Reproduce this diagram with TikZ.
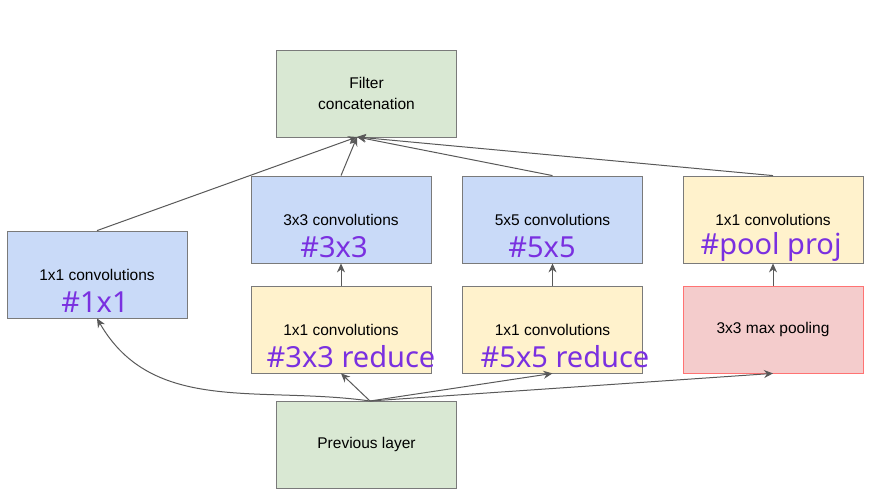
\documentclass[tikz,border=0pt]{standalone}
\usepackage{fontspec}
\setmainfont{Liberation Sans}
\newfontfamily\notefont{Noto Sans}
\usetikzlibrary{arrows.meta}
\definecolor{boxgreen}{HTML}{D9E8D3}
\definecolor{boxblue}{HTML}{C9DAF8}
\definecolor{boxyellow}{HTML}{FFF2CC}
\definecolor{boxred}{HTML}{F4CCCC}
\definecolor{note}{HTML}{7A30E0}
\definecolor{wire}{HTML}{595959}
\tikzset{
  box/.style={draw=wire!80, line width=0.8pt, minimum width=180pt, minimum height=87pt, inner sep=0pt, font=\fontsize{15.5}{21}\selectfont, align=center},
  tag/.style={text=note, font=\notefont\fontsize{29}{32}\selectfont, inner sep=0pt},
  link/.style={draw=wire, line width=1pt, -{Stealth[length=9pt,width=8pt]}}
}
\begin{document}
\begin{tikzpicture}[x=1pt,y=-1pt]
\useasboundingbox (0,0) rectangle (869,494);

% boxes
\node[box, fill=boxgreen] (concat) at (366.5,93.5) {Filter\\concatenation};
\node[box, fill=boxblue] (one) at (97,274.5) {1x1 convolutions};
\node[box, fill=boxblue] (three) at (341,219.5) {3x3 convolutions};
\node[box, fill=boxblue] (five) at (552.5,219.5) {5x5 convolutions};
\node[box, fill=boxyellow] (proj) at (773,219.5) {1x1 convolutions};
\node[box, fill=boxyellow] (redthree) at (341,329.5) {1x1 convolutions};
\node[box, fill=boxyellow] (redfive) at (552.5,329.5) {1x1 convolutions};
\node[box, fill=boxred, draw=red!55] (pool) at (773,329.5) {3x3 max pooling};
\node[box, fill=boxgreen] (prev) at (366.5,444.5) {Previous layer};

% notes
\node[tag] (tone) at (95,302) {\#1x1};
\node[tag] (tthree) at (334,247) {\#3x3};
\node[tag] (tfive) at (542,247) {\#5x5};
\node[tag] (tproj) at (771,247) {\#pool proj};
\node[tag] (tredthree) at (351,357) {\#3x3 reduce};
\node[tag] (tredfive) at (565,357) {\#5x5 reduce};

% connectors
\coordinate (src) at (370,401);
\draw[link] (src) to[out=172, in=-60] (one.south);
\draw[link] (src) -- (redthree.south);
\draw[link] (src) -- (redfive.south);
\draw[link] (src) -- (pool.south);
\draw[link] (redthree) -- (three);
\draw[link] (redfive) -- (five);
\draw[link] (pool) -- (proj);
\coordinate (sink) at (357,137);
\draw[link] (one.north) -- (sink);
\draw[link] (three.north) -- (sink);
\draw[link] (five.north) -- (sink);
\draw[link] (proj.north) -- (sink);
\end{tikzpicture}
\end{document}
